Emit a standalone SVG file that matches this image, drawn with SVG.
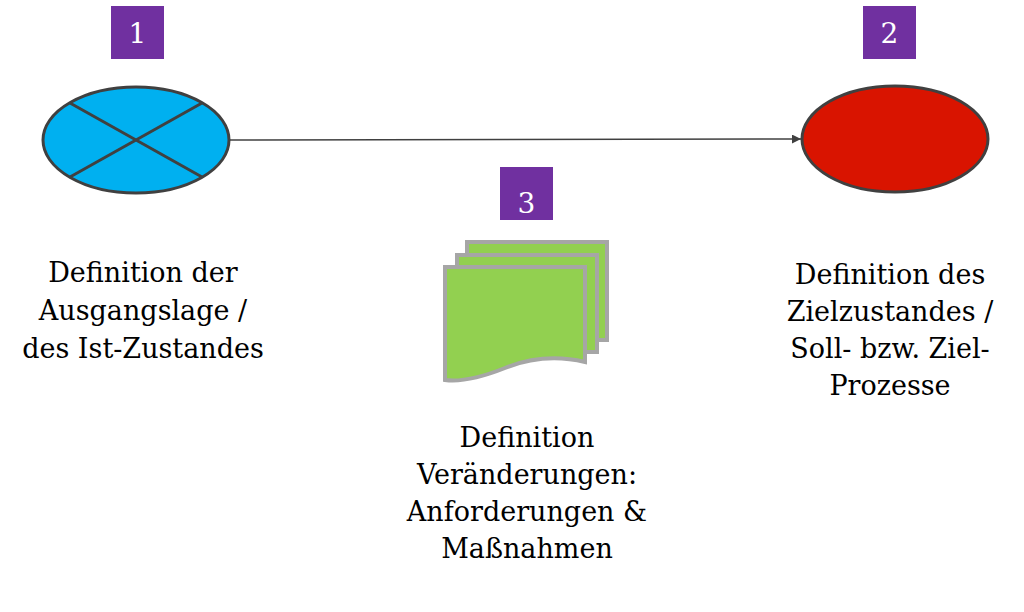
<svg xmlns="http://www.w3.org/2000/svg" width="1024" height="612" viewBox="0 0 1024 612">
<style>
.badge{fill:#7030a0}
.bt{font-family:"DejaVu Serif","Liberation Serif",serif;font-size:28px;fill:#fff;text-anchor:middle}
.lbl{font-family:"DejaVu Serif","Liberation Serif",serif;font-size:27px;fill:#000;text-anchor:middle}
.doc{fill:#92d050;stroke:#a6a6a6;stroke-width:4}
</style>
<defs><marker id="ah" viewBox="0 0 10 10" refX="10" refY="5" markerWidth="6" markerHeight="6" orient="auto"><path d="M0,0L10,5L0,10z" fill="#404040"/></marker></defs>
<rect width="1024" height="612" fill="#fff"/>
<g id="connectors"><line x1="229" y1="140" x2="801" y2="139" stroke="#404040" stroke-width="1.5" marker-end="url(#ah)"/></g>
<g id="n1">
<rect class="badge" x="111" y="6" width="53" height="53"/><text class="bt" x="137.5" y="43">1</text>
<ellipse cx="136" cy="140" rx="93" ry="53" fill="#00b0f0" stroke="#404040" stroke-width="3"/>
<line x1="70" y1="103" x2="202" y2="177" stroke="#404040" stroke-width="3"/>
<line x1="202" y1="103" x2="70" y2="177" stroke="#404040" stroke-width="3"/>
<text class="lbl" x="143" y="282">Definition der</text>
<text class="lbl" x="143" y="320">Ausgangslage /</text>
<text class="lbl" x="143" y="358">des Ist-Zustandes</text>
</g>
<g id="n2">
<rect class="badge" x="863" y="6" width="53" height="53"/><text class="bt" x="889.5" y="43">2</text>
<ellipse cx="895" cy="139" rx="93" ry="53" fill="#d91400" stroke="#404040" stroke-width="3"/>
<text class="lbl" x="890" y="284">Definition des</text>
<text class="lbl" x="890" y="321">Zielzustandes /</text>
<text class="lbl" x="890" y="358">Soll- bzw. Ziel-</text>
<text class="lbl" x="890" y="395">Prozesse</text>
</g>
<g id="n3">
<rect class="badge" x="500" y="167" width="53" height="53"/><text class="bt" x="526.5" y="213">3</text>
<path class="doc" d="M467,242H607V340H467z"/>
<path class="doc" d="M457,255H597V352H457z"/>
<path class="doc" d="M445,267H585V362C555,355 530,358 505,368C480,378 460,382 445,380z"/>
<text class="lbl" x="527" y="447">Definition</text>
<text class="lbl" x="527" y="484">Veränderungen:</text>
<text class="lbl" x="527" y="521">Anforderungen &amp;</text>
<text class="lbl" x="527" y="558">Maßnahmen</text>
</g>
</svg>
